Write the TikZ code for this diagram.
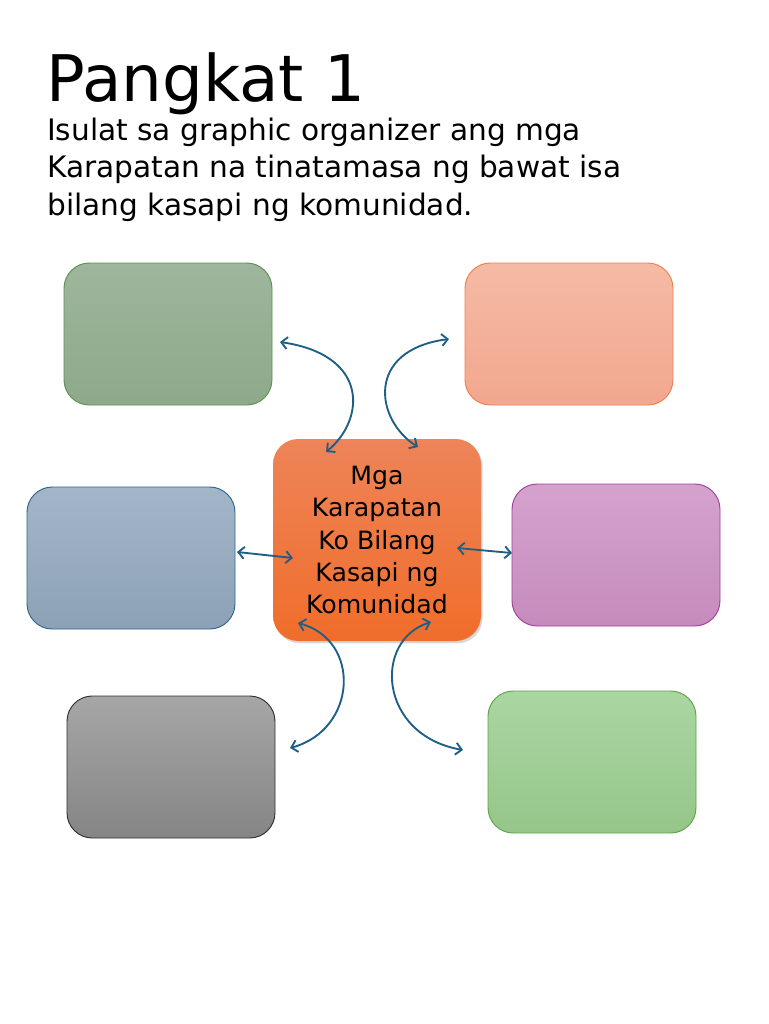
\documentclass[tikz,border=0pt]{standalone}
\usepackage{fontspec}
\setmainfont{DejaVu Sans}
\usetikzlibrary{arrows.meta}
\usetikzlibrary{shadows}

\definecolor{linkblue}{HTML}{1F5F85}
\definecolor{sageT}{HTML}{9DB69D}\definecolor{sageB}{HTML}{8EA98A}\definecolor{sageD}{HTML}{5E9050}
\definecolor{peachT}{HTML}{F5BAA5}\definecolor{peachB}{HTML}{F2A78E}\definecolor{peachD}{HTML}{EE8050}
\definecolor{steelT}{HTML}{A3B6C9}\definecolor{steelB}{HTML}{8DA1B6}\definecolor{steelD}{HTML}{2E6590}
\definecolor{plumT}{HTML}{D4A3CD}\definecolor{plumB}{HTML}{C58BBC}\definecolor{plumD}{HTML}{A0409A}
\definecolor{ashT}{HTML}{A6A6A6}\definecolor{ashB}{HTML}{858585}\definecolor{ashD}{HTML}{303030}
\definecolor{mintT}{HTML}{AAD6A2}\definecolor{mintB}{HTML}{96C68A}\definecolor{mintD}{HTML}{5CA545}
\definecolor{coralT}{HTML}{EE8458}\definecolor{coralB}{HTML}{F06D2B}

\begin{document}
\begin{tikzpicture}[x=0.75pt, y=-0.75pt,
  box/.style={rounded corners=19pt, minimum width=156pt, minimum height=106.5pt, line width=0.7pt},
  link/.style={linkblue, line width=1.4pt, <->, >={Straight Barb[length=4.5pt,width=9pt]}}]
\useasboundingbox[fill=white] (0,0) rectangle (768,1024);

% title and instruction
\node[anchor=base west, inner sep=0, font=\fontsize{48.2}{58}\selectfont] (title) at (46,101) {Pangkat 1};
\node[anchor=north west, inner sep=0, align=left, font=\fontsize{22.2}{28.1}\selectfont] (intro) at (47,117.5)
  {Isulat sa graphic organizer ang mga\\Karapatan na tinatamasa ng bawat isa\\bilang kasapi ng komunidad.};

% the six empty boxes
\foreach \nm/\cx/\cy/\col in {sage/168/334/sage, peach/569/334/peach, steel/131/558/steel,
                               plum/616/555/plum, ash/171/767/ash, mint/592/762/mint}{
  \node[box, draw=\col D, top color=\col T, bottom color=\col B] (\nm) at (\cx,\cy) {};
}

% centre box
\node[box, minimum height=151.5pt, top color=coralT, bottom color=coralB, align=center,
  drop shadow={opacity=0.3, shadow xshift=1.2pt, shadow yshift=-1.8pt},
  font=\fontsize{18.9}{24.3}\selectfont] (karapatan) at (377,540)
  {Mga\\Karapatan\\Ko Bilang\\Kasapi ng\\Komunidad};

% arrow ends
\coordinate (sageEnd) at (280,342);   \coordinate (cTL) at (326,452);
\coordinate (peachEnd) at (449,339);  \coordinate (cTR) at (418,447);
\coordinate (steelEnd) at (237,552);  \coordinate (cL) at (293,558);
\coordinate (plumEnd) at (512,553);   \coordinate (cR) at (457,548);
\coordinate (ashEnd) at (290,748);    \coordinate (cBL) at (298,623);
\coordinate (mintEnd) at (463,750);   \coordinate (cBR) at (431,622);

\draw[link] (sageEnd) .. controls (370,355) and (365,420) .. (cTL);
\draw[link] (peachEnd) .. controls (365,350) and (375,420) .. (cTR);
\draw[link] (steelEnd) -- (cL);
\draw[link] (cR) -- (plumEnd);
\draw[link] (cBL) .. controls (362,640) and (357,730) .. (ashEnd);
\draw[link] (cBR) .. controls (373,640) and (378,735) .. (mintEnd);
\end{tikzpicture}
\end{document}
